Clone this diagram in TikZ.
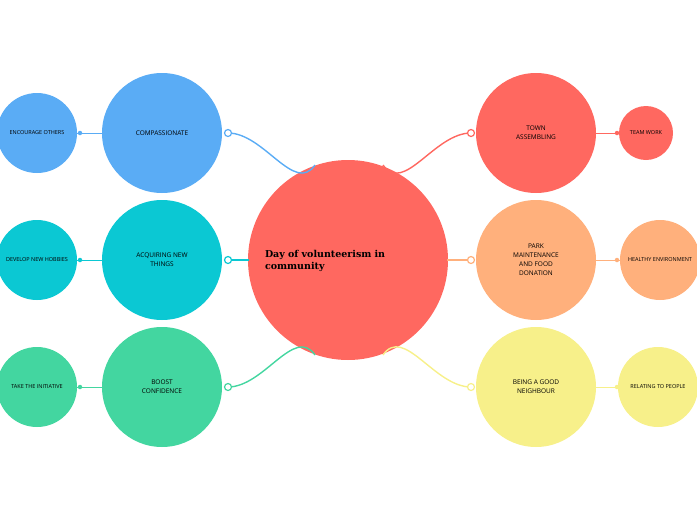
\documentclass[tikz,border=0pt]{standalone}
\usepackage{fontspec}
\setmainfont{Open Sans}
\newfontfamily\titlefont{DejaVu Serif}
\begin{document}
\begin{tikzpicture}[x=1pt,y=-1pt,
  big/.style={circle,minimum size=120pt,inner sep=0pt,align=center,font=\fontsize{6.5}{9}\selectfont},
  small/.style={circle,minimum size=80pt,inner sep=0pt,align=center,font=\fontsize{5.5}{7}\selectfont},
  ring/.style={circle,draw=#1,fill=white,line width=1.2pt,minimum size=7pt,inner sep=0pt},
  dot/.style={circle,fill=#1,minimum size=4.5pt,inner sep=0pt},
  lnk/.style={draw=#1,line width=1.4pt}]
\useasboundingbox (0,0) rectangle (697,520);
\definecolor{cb}{HTML}{5AACF5}\definecolor{cc}{HTML}{0BC8D3}\definecolor{cg}{HTML}{43D6A0}
\definecolor{cr}{HTML}{FF6860}\definecolor{co}{HTML}{FFB07C}\definecolor{cy}{HTML}{F7F08A}
\node[circle,fill=cr,minimum size=200pt,inner sep=0pt] (c) at (348,260) {};
\node[align=left,font=\titlefont\bfseries\fontsize{9.5}{12}\selectfont,text width=160pt] at (345,261) {Day of volunteerism in\\community};
% left
\node[big,fill=cb] (b1) at (162,133) {COMPASSIONATE};
\node[big,fill=cc] (b2) at (162,260) {ACQUIRING NEW\\THINGS};
\node[big,fill=cg] (b3) at (162,387) {BOOST\\CONFIDENCE};
\node[small,fill=cb] (s1) at (37,133) {ENCOURAGE OTHERS};
\node[small,fill=cc] (s2) at (37,260) {DEVELOP NEW HOBBIES};
\node[small,fill=cg] (s3) at (37,387) {TAKE THE INITIATIVE};
% right
\node[big,fill=cr] (b4) at (536,133) {TOWN\\ASSEMBLING};
\node[big,fill=co] (b5) at (536,260) {PARK\\MAINTENANCE\\AND FOOD\\DONATION};
\node[big,fill=cy] (b6) at (536,387) {BEING A GOOD\\NEIGHBOUR};
\node[circle,minimum size=54pt,inner sep=0pt,fill=cr,font=\fontsize{5.5}{7}\selectfont] (s4) at (646,133) {TEAM WORK};
\node[small,fill=co] (s5) at (660,260) {HEALTHY ENVIRONMENT};
\node[small,fill=cy] (s6) at (658,387) {RELATING TO PEOPLE};
% connectors
\coordinate (e1) at (315,165);\coordinate (e2) at (249,260);\coordinate (e3) at (315,355);
\coordinate (e4) at (383,165);\coordinate (e5) at (447,260);\coordinate (e6) at (383,355);
\draw[lnk=cb] (e1) to[out=235,in=0] (228,133);
\draw[lnk=cc] (e2) -- (228,260);
\draw[lnk=cg] (e3) to[out=125,in=0] (228,387);
\draw[lnk=cr] (e4) to[out=-55,in=180] (471,133);
\draw[lnk=co] (e5) -- (471,260);
\draw[lnk=cy] (e6) to[out=55,in=180] (471,387);
\node[ring=cb] (r1) at (228,133) {};\node[ring=cc] (r2) at (228,260) {};\node[ring=cg] (r3) at (228,387) {};
\node[ring=cr] (r4) at (471,133) {};\node[ring=co] (r5) at (471,260) {};\node[ring=cy] (r6) at (471,387) {};
\draw[lnk=cb,line width=1pt] (b1) -- (s1);\draw[lnk=cc,line width=1pt] (b2) -- (s2);\draw[lnk=cg,line width=1pt] (b3) -- (s3);
\draw[lnk=cr,line width=1pt] (b4) -- (s4);\draw[lnk=co,line width=1pt] (b5) -- (s5);\draw[lnk=cy,line width=1pt] (b6) -- (s6);
\node[dot=cb] at (80,133) {};\node[dot=cc] at (80,260) {};\node[dot=cg] at (80,387) {};
\node[dot=cr] at (617,133) {};\node[dot=co] at (617,260) {};\node[dot=cy] at (617,387) {};
\end{tikzpicture}
\end{document}
